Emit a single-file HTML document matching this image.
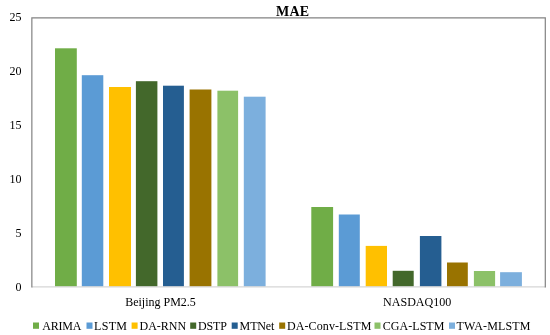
<!DOCTYPE html>
<html><head><meta charset="utf-8"><title>MAE</title>
<style>
html,body{margin:0;padding:0;background:#fff;}
svg{display:block}
text{font-family:"Liberation Serif","Times New Roman",serif;fill:#000;}
.ax{font-size:12px}
.lg{font-size:12px}
.ti{font-size:14px;font-weight:bold;fill:#000}
</style></head><body>
<svg width="550" height="335" viewBox="0 0 550 335">
<rect x="0" y="0" width="550" height="335" fill="#fff"/>
<rect x="55.0" y="48.3" width="21.8" height="238.3" fill="#70AD47"/>
<rect x="81.8" y="75.2" width="21.5" height="211.4" fill="#5B9BD5"/>
<rect x="109.0" y="87.0" width="22.0" height="199.6" fill="#FFC000"/>
<rect x="135.9" y="81.2" width="21.5" height="205.4" fill="#43682B"/>
<rect x="163.0" y="85.7" width="20.9" height="200.9" fill="#255E91"/>
<rect x="189.6" y="89.5" width="21.8" height="197.1" fill="#997300"/>
<rect x="217.4" y="90.7" width="20.7" height="195.9" fill="#8CC168"/>
<rect x="243.8" y="96.7" width="21.8" height="189.9" fill="#7CAFDD"/>
<rect x="311.3" y="207" width="21.8" height="79.6" fill="#70AD47"/>
<rect x="338.8" y="214.5" width="21.0" height="72.1" fill="#5B9BD5"/>
<rect x="365.7" y="245.9" width="21.3" height="40.7" fill="#FFC000"/>
<rect x="392.7" y="270.8" width="21.0" height="15.8" fill="#43682B"/>
<rect x="419.9" y="236" width="21.5" height="50.6" fill="#255E91"/>
<rect x="447.0" y="262.5" width="20.8" height="24.1" fill="#997300"/>
<rect x="473.9" y="271" width="21.2" height="15.6" fill="#8CC168"/>
<rect x="500.1" y="272.2" width="21.8" height="14.4" fill="#7CAFDD"/>
<path d="M31.85 286.9H545.3" fill="none" stroke="#d6d6d6" stroke-width="1.4"/>
<path d="M31.85 287.4V17.8H545.3V287.4" fill="none" stroke="#828282" stroke-width="1.2"/>
<text x="21.4" y="291.4" text-anchor="end" class="ax">0</text>
<text x="21.4" y="237.3" text-anchor="end" class="ax">5</text>
<text x="21.4" y="183.1" text-anchor="end" class="ax">10</text>
<text x="21.4" y="129.0" text-anchor="end" class="ax">15</text>
<text x="21.4" y="74.8" text-anchor="end" class="ax">20</text>
<text x="21.4" y="20.7" text-anchor="end" class="ax">25</text>
<text x="125.2" y="305.5" textLength="70.6" lengthAdjust="spacingAndGlyphs" class="ax">Beijing PM2.5</text>
<text x="383.0" y="305.6" textLength="68.4" lengthAdjust="spacingAndGlyphs" class="ax">NASDAQ100</text>
<text x="276.1" y="16.3" textLength="32.9" class="ti">MAE</text>
<rect x="33" y="322.5" width="6" height="6.3" fill="#70AD47"/>
<text x="42.2" y="329.6" textLength="39.2" lengthAdjust="spacing" class="lg">ARIMA</text>
<rect x="86.5" y="322.5" width="6" height="6.3" fill="#5B9BD5"/>
<text x="94.1" y="329.6" textLength="32.9" lengthAdjust="spacing" class="lg">LSTM</text>
<rect x="131.6" y="322.5" width="6" height="6.3" fill="#FFC000"/>
<text x="139.6" y="329.6" textLength="46.5" lengthAdjust="spacing" class="lg">DA-RNN</text>
<rect x="190.2" y="322.5" width="6" height="6.3" fill="#43682B"/>
<text x="197.9" y="329.6" textLength="29.1" lengthAdjust="spacing" class="lg">DSTP</text>
<rect x="231.7" y="322.5" width="6" height="6.3" fill="#255E91"/>
<text x="239.6" y="329.6" textLength="34.8" lengthAdjust="spacing" class="lg">MTNet</text>
<rect x="279.2" y="322.5" width="6" height="6.3" fill="#997300"/>
<text x="287.0" y="329.6" textLength="84.4" lengthAdjust="spacing" class="lg">DA-Conv-LSTM</text>
<rect x="374.5" y="322.5" width="6" height="6.3" fill="#8CC168"/>
<text x="382.8" y="329.6" textLength="61.6" lengthAdjust="spacing" class="lg">CGA-LSTM</text>
<rect x="449" y="322.5" width="6" height="6.3" fill="#7CAFDD"/>
<text x="456.6" y="329.6" textLength="73.8" lengthAdjust="spacing" class="lg">TWA-MLSTM</text>
</svg>
</body></html>
